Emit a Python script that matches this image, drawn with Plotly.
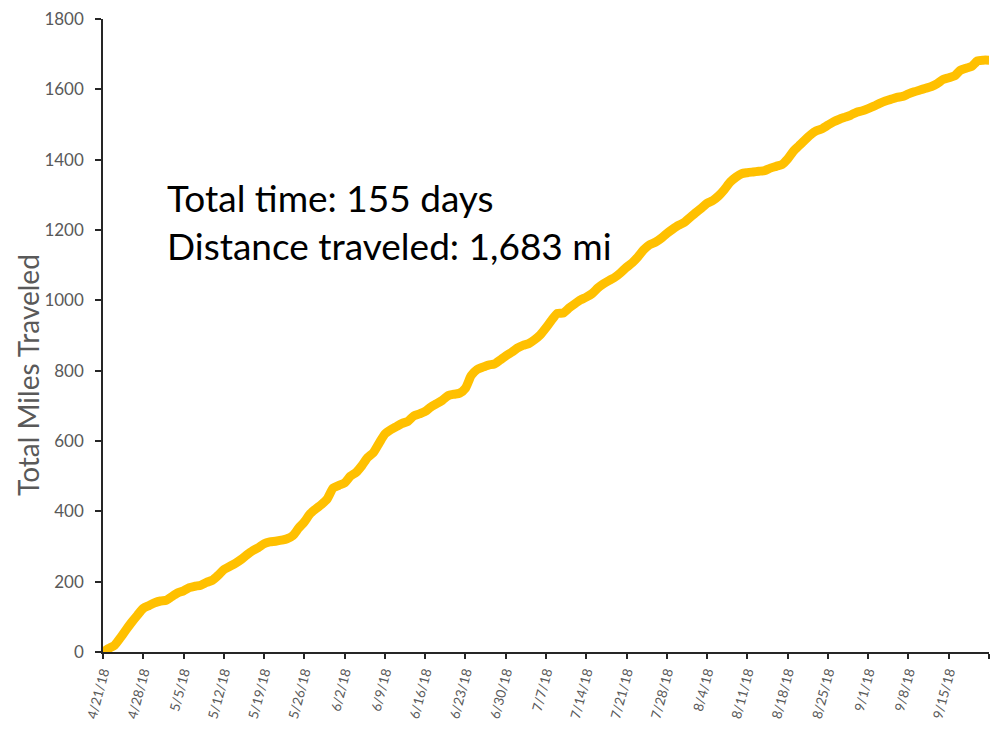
import pandas as pd
import plotly.graph_objects as go

start_date = "2018-04-21"
miles = [
    0, 10, 19, 40, 63, 85, 105, 124, 132, 140,
    145, 147, 158, 168, 174, 183, 187, 190, 198, 204,
    218, 234, 243, 252, 263, 276, 288, 297, 308, 313,
    315, 318, 322, 331, 352, 370, 393, 407, 420, 436,
    466, 474, 481, 500, 511, 530, 553, 567, 594, 620,
    632, 641, 650, 656, 671, 677, 684, 697, 706, 716,
    729, 733, 736, 750, 786, 803, 810, 816, 819, 830,
    842, 852, 864, 872, 877, 888, 902, 922, 944, 963,
    964, 978, 990, 1001, 1009, 1019, 1035, 1047, 1057, 1066,
    1079, 1094, 1107, 1124, 1144, 1158, 1165, 1176, 1190, 1202,
    1213, 1221, 1235, 1249, 1262, 1276, 1284, 1297, 1315, 1336,
    1350, 1360, 1363, 1365, 1367, 1369, 1376, 1381, 1386, 1402,
    1424, 1440, 1456, 1471, 1482, 1488, 1498, 1508, 1515, 1521,
    1527, 1535, 1539, 1545, 1552, 1560, 1567, 1572, 1577, 1580,
    1587, 1593, 1598, 1603, 1608, 1616, 1628, 1633, 1638, 1654,
    1660, 1665, 1681, 1683, 1683,
]
dates = pd.date_range(start_date, periods=len(miles), freq="D")

tick_dates = ["2018-04-21", "2018-04-28", "2018-05-05", "2018-05-12", "2018-05-19",
              "2018-05-26", "2018-06-02", "2018-06-09", "2018-06-16", "2018-06-23",
              "2018-06-30", "2018-07-07", "2018-07-14", "2018-07-21", "2018-07-28",
              "2018-08-04", "2018-08-11", "2018-08-18", "2018-08-25", "2018-09-01",
              "2018-09-08", "2018-09-15", "2018-09-22"]
tick_labels = ["4/21/18", "4/28/18", "5/5/18", "5/12/18", "5/19/18", "5/26/18",
               "6/2/18", "6/9/18", "6/16/18", "6/23/18", "6/30/18", "7/7/18",
               "7/14/18", "7/21/18", "7/28/18", "8/4/18", "8/11/18", "8/18/18",
               "8/25/18", "9/1/18", "9/8/18", "9/15/18", ""]
y_ticks = [0, 200, 400, 600, 800, 1000, 1200, 1400, 1600, 1800]

font_family = "Lato, 'Open Sans', sans-serif"
gray = "#595959"

fig = go.Figure()
fig.add_trace(go.Scatter(
    x=dates, y=miles, mode="lines",
    line=dict(color="#FFC000", width=9, shape="spline", smoothing=0.6),
    showlegend=False,
))

# the page body adds an 8px offset, so the figure is sized to fit inside the window
fig.update_layout(
    width=984, height=715,
    margin=dict(l=95, r=3, t=11, b=71),
    plot_bgcolor="white", paper_bgcolor="white",
    font=dict(family=font_family, color=gray),
    xaxis=dict(
        range=[tick_dates[0], tick_dates[-1]],
        tickvals=tick_dates, ticktext=tick_labels,
        tickangle=-75, tickfont=dict(size=13.5, color=gray),
        showline=True, linecolor="#262626", linewidth=2,
        ticks="outside", ticklen=5, tickwidth=2, tickcolor="#262626",
        showgrid=False, zeroline=False, automargin=False,
        ticklabeloverflow="allow",
    ),
    yaxis=dict(
        range=[0, 1800], tickvals=y_ticks,
        tickfont=dict(size=17, color=gray),
        showline=True, linecolor="#262626", linewidth=1.5,
        ticks="outside", ticklen=6, tickwidth=1.5, tickcolor="#262626",
        ticklabelstandoff=8, ticklabeloverflow="allow",
        showgrid=False, zeroline=False, automargin=False,
    ),
    annotations=[
        dict(
            text="Total time: 155 days<br>Distance traveled: 1,683 mi",
            xref="paper", yref="paper", x=0.07, y=0.757,
            xanchor="left", yanchor="top", align="left", showarrow=False,
            font=dict(size=37, color="black", family=font_family),
        ),
        dict(
            text="Total Miles Traveled", textangle=-90,
            xref="paper", yref="paper", x=-0.0847, y=0.4376,
            xanchor="center", yanchor="middle", showarrow=False,
            font=dict(size=28, color=gray, family=font_family),
        ),
    ],
)

fig.write_html("out.html")
